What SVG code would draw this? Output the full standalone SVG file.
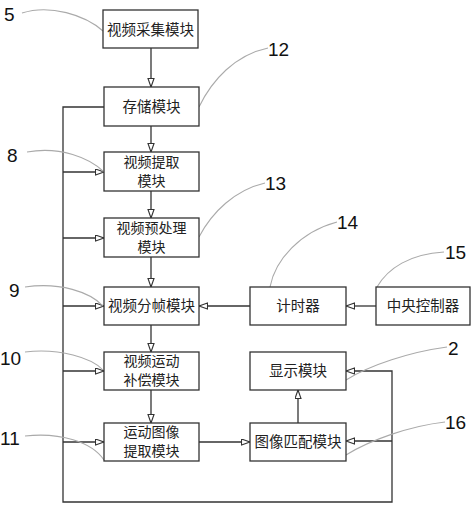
<svg xmlns="http://www.w3.org/2000/svg" width="474" height="505" viewBox="0 0 474 505">
<style>
.box{fill:#fff;stroke:#333;stroke-width:1.3}
.t{font-family:"Noto Sans CJK SC","Noto Sans",sans-serif;font-size:14.5px;fill:#222;text-anchor:middle}
.t2{font-family:"Noto Sans CJK SC","Noto Sans",sans-serif;font-size:14px;fill:#222;text-anchor:middle}
.n{font-family:"Liberation Sans",Arial,sans-serif;font-size:19px;fill:#111}
.c{fill:none;stroke:#333;stroke-width:1.3}
.l{fill:none;stroke:#aaa;stroke-width:1.1}
</style>
<defs>
<marker id="a" markerUnits="userSpaceOnUse" markerWidth="12" markerHeight="10" refX="9" refY="3.5" orient="auto">
<path d="M0.5,0.5 L9,3.5 L0.5,6.5 z" fill="#fff" stroke="#333" stroke-width="1.1"/>
</marker>
</defs>
<g id="connectors">
<path class="c" d="M151,48 V87" marker-end="url(#a)"/>
<path class="c" d="M151,126 V152" marker-end="url(#a)"/>
<path class="c" d="M151,191 V218" marker-end="url(#a)"/>
<path class="c" d="M151,257 V287" marker-end="url(#a)"/>
<path class="c" d="M151,325 V352" marker-end="url(#a)"/>
<path class="c" d="M151,390 V423" marker-end="url(#a)"/>
<path class="c" d="M104,107 H63 V502 H392 V371 H346" marker-end="url(#a)"/>
<path class="c" d="M63,172 H104" marker-end="url(#a)"/>
<path class="c" d="M63,238 H104" marker-end="url(#a)"/>
<path class="c" d="M63,306 H104" marker-end="url(#a)"/>
<path class="c" d="M63,371 H104" marker-end="url(#a)"/>
<path class="c" d="M63,442 H104" marker-end="url(#a)"/>
<path class="c" d="M250,306 H199" marker-end="url(#a)"/>
<path class="c" d="M376,306 H346" marker-end="url(#a)"/>
<path class="c" d="M199,442 H250" marker-end="url(#a)"/>
<path class="c" d="M392,441 H346" marker-end="url(#a)"/>
<path class="c" d="M298,423 V390" marker-end="url(#a)"/>
</g>
<g id="leaders">
<path class="l" d="M22,13 C50,4 85,15 103,31"/>
<path class="l" d="M268,48 C235,55 212,80 199,107"/>
<path class="l" d="M27,152 C60,146 90,158 104,172"/>
<path class="l" d="M265,183 C235,190 212,212 199,237"/>
<path class="l" d="M25,287 C60,282 90,292 103,306"/>
<path class="l" d="M25,352 C60,348 92,358 103,370"/>
<path class="l" d="M25,436 C60,432 92,442 104,460"/>
<path class="l" d="M337,222 C300,232 275,260 270,287"/>
<path class="l" d="M444,252 C410,254 388,268 377,287"/>
<path class="l" d="M447,347 C410,352 370,365 346,380"/>
<path class="l" d="M445,422 C410,426 370,440 346,455"/>
</g>
<g id="n5"><rect class="box" x="103" y="10" width="95" height="38"/><text class="t" x="150.5" y="35">视频采集模块</text><text class="n" x="4" y="21">5</text></g>
<g id="n12"><rect class="box" x="104" y="87" width="95" height="39"/><text class="t" x="151.5" y="112">存储模块</text><text class="n" x="268" y="56">12</text></g>
<g id="n8"><rect class="box" x="104" y="152" width="95" height="39"/><text class="t2" x="151.5" y="167">视频提取</text><text class="t2" x="151.5" y="186">模块</text><text class="n" x="7" y="162">8</text></g>
<g id="n13"><rect class="box" x="104" y="218" width="95" height="39"/><text class="t2" x="151.5" y="233">视频预处理</text><text class="t2" x="151.5" y="252">模块</text><text class="n" x="265" y="190">13</text></g>
<g id="n9"><rect class="box" x="104" y="287" width="95" height="38"/><text class="t" x="151.5" y="311">视频分帧模块</text><text class="n" x="9" y="297">9</text></g>
<g id="n10"><rect class="box" x="104" y="352" width="95" height="38"/><text class="t2" x="151.5" y="366">视频运动</text><text class="t2" x="151.5" y="385">补偿模块</text><text class="n" x="0" y="365">10</text></g>
<g id="n11"><rect class="box" x="104" y="423" width="95" height="38"/><text class="t2" x="151.5" y="437">运动图像</text><text class="t2" x="151.5" y="456">提取模块</text><text class="n" x="0" y="445">11</text></g>
<g id="n14"><rect class="box" x="250" y="287" width="96" height="38"/><text class="t" x="298" y="311">计时器</text><text class="n" x="337" y="229">14</text></g>
<g id="n15"><rect class="box" x="376" y="287" width="94" height="38"/><text class="t" x="423" y="311">中央控制器</text><text class="n" x="445" y="259">15</text></g>
<g id="n2"><rect class="box" x="250" y="352" width="96" height="38"/><text class="t" x="298" y="376">显示模块</text><text class="n" x="448" y="355">2</text></g>
<g id="n16"><rect class="box" x="250" y="423" width="96" height="38"/><text class="t" x="298" y="447">图像匹配模块</text><text class="n" x="445" y="429">16</text></g>
</svg>
